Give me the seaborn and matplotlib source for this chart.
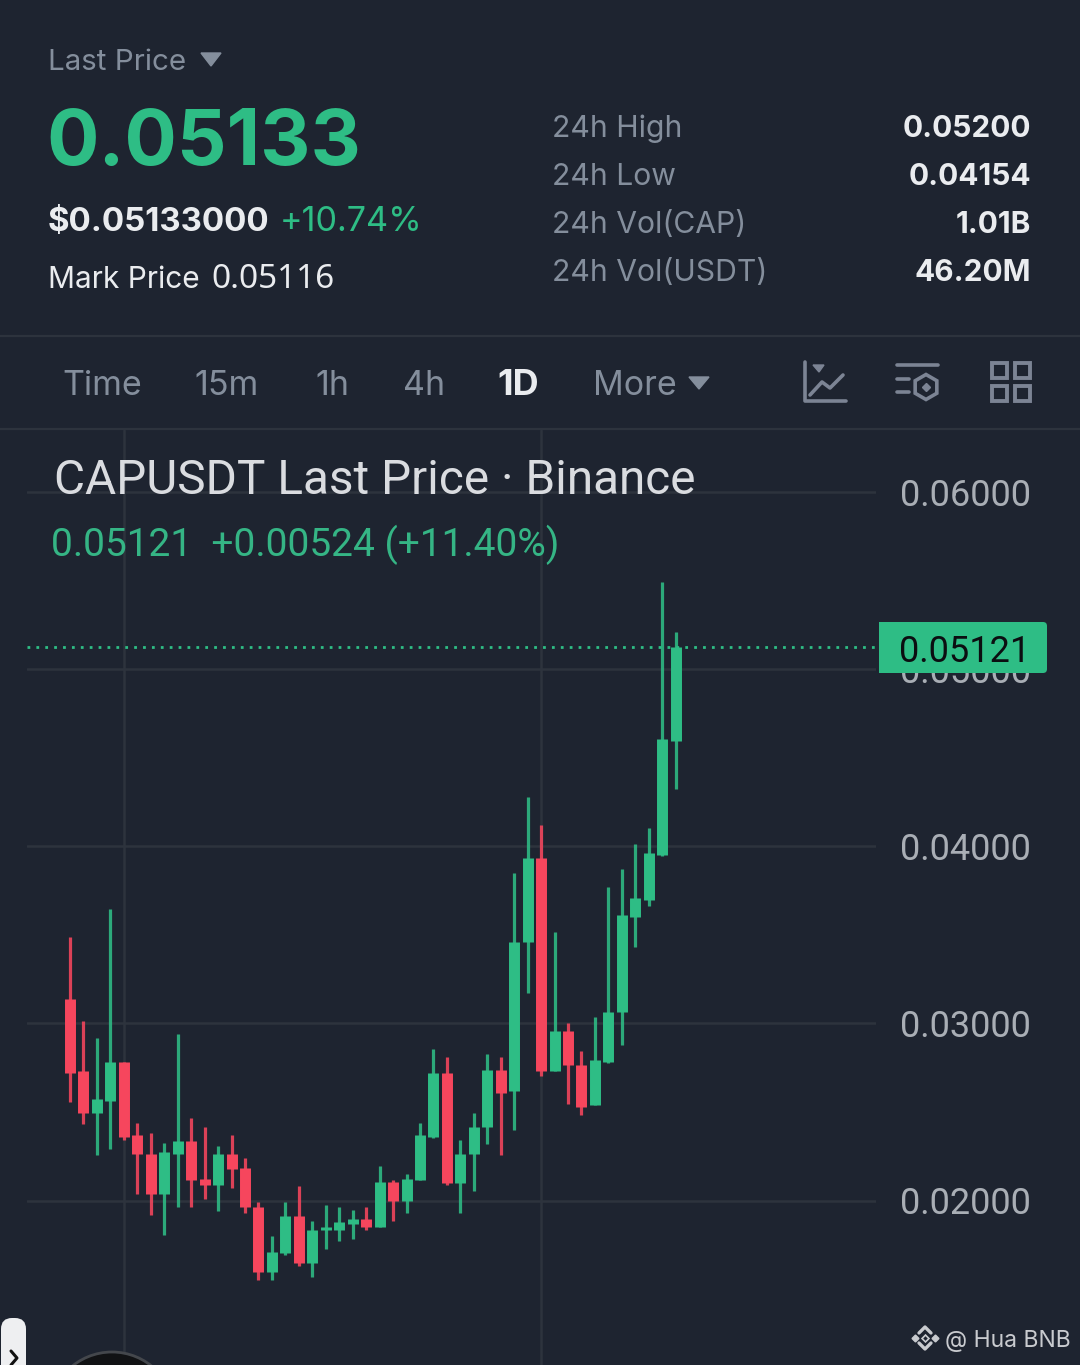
import matplotlib
matplotlib.use("Agg")
import matplotlib.pyplot as plt
from matplotlib.patches import Circle, FancyBboxPatch, Polygon, Rectangle
import numpy as np
import pandas as pd
import seaborn as sns

# daily candles
opens = [.03134, .02728, .02491, .02564, .02779, .02367, .02260, .02039, .02265, .02333,
         .02124, .02090, .02260, .02181, .01966, .01594, .01701, .01915, .01645, .01836,
         .01836, .01870, .01893, .01848, .02107, .02000, .02118, .02361, .02717, .02096,
         .02260, .02412, .02739, .02615, .03456, .03930, .02728, .02959, .02767, .02536,
         .02784, .03061, .03602, .03693, .03952, .04595]
closes = [.02722, .02491, .02575, .02779, .02361, .02260, .02039, .02271, .02333, .02118,
          .02090, .02260, .02175, .01961, .01594, .01707, .01915, .01645, .01831, .01853,
          .01876, .01893, .01848, .02107, .02000, .02124, .02367, .02717, .02096, .02260,
          .02412, .02739, .02609, .03461, .03930, .02728, .02959, .02762, .02530, .02790,
          .03066, .03608, .03704, .03958, .04601, .05121]
highs = [.03489, .03010, .02914, .03642, .02784, .02440, .02378, .02322, .02937, .02468,
         .02412, .02305, .02372, .02237, .01989, .01797, .01989, .02079, .01887, .01977,
         .01966, .01944, .01961, .02192, .02118, .02152, .02440, .02852, .02807, .02339,
         .02496, .02829, .02807, .03845, .04279, .04121, .03512, .02999, .02846, .03038,
         .03766, .03868, .04014, .04104, .05492, .05205]
lows = [.02553, .02434, .02254, .02288, .02339, .02034, .01921, .01808, .01966, .01961,
        .02006, .01938, .02068, .01932, .01554, .01549, .01690, .01628, .01571, .01724,
        .01774, .01780, .01831, .01848, .01887, .01932, .02118, .02355, .02090, .01932,
        .02051, .02316, .02254, .02400, .03168, .02700, .02728, .02547, .02480, .02536,
        .02773, .02880, .03433, .03664, .03941, .04324]

price_ticks = [0.02, 0.03, 0.04, 0.05, 0.06]
last_close = 0.05121
grid_candles = [4, 35]

stat_labels = ["24h High", "24h Low", "24h Vol(CAP)", "24h Vol(USDT)"]
stat_values = ["0.05200", "0.04154", "1.01B", "46.20M"]
tab_labels = ["Time", "15m", "1h", "4h", "1D", "More"]

BG = "#1E2430"
GREEN = "#2EBD85"
RED = "#F6465D"
GRID = "#2D333D"
MUTED = "#848E9C"
LIGHT = "#EAECEF"

sns.set_theme(style="dark", rc={"axes.facecolor": BG, "figure.facecolor": BG})
plt.rcParams["font.family"] = ["Inter", "Roboto", "DejaVu Sans"]

W, H = 1080, 1365
fig = plt.figure(figsize=(W / 100, H / 100), dpi=100)

# chart area in pixels
left, right, top, bottom = 27, 876, 430, 1365
ax = fig.add_axes([left / W, 1 - bottom / H, (right - left) / W, (bottom - top) / H])

candles = pd.DataFrame({"open": opens, "close": closes, "high": highs, "low": lows})
candles["idx"] = candles.index
candles["dir"] = np.where(candles["close"] >= candles["open"], "up", "down")
palette = {"up": GREEN, "down": RED}

wicks = candles.melt(id_vars=["idx", "dir"], value_vars=["high", "low"], value_name="price")
bodies = candles.melt(id_vars=["idx", "dir"], value_vars=["open", "close"], value_name="price")

sns.lineplot(data=wicks, x="idx", y="price", hue="dir", units="idx", estimator=None,
             palette=palette, linewidth=2.3, alpha=0.88, legend=False, ax=ax,
             solid_capstyle="butt")
sns.lineplot(data=bodies, x="idx", y="price", hue="dir", units="idx", estimator=None,
             palette=palette, linewidth=7.9, legend=False, ax=ax,
             solid_capstyle="butt")

ax.axhline(last_close, color=GREEN, linestyle=(0, (1, 2.2)), linewidth=2.0, zorder=1)

# 0.01 of price is 177.25 px, first candle at x=70, step 13.46 px
ax.set_ylim(0.02 - (bottom - 1200.5) / 17725, 0.06 + (491.5 - top) / 17725)
ax.set_xlim((left - 70) / 13.46, (right - 70) / 13.46)
ax.set_xticks(grid_candles)
ax.set_xticklabels([])
ax.set_yticks(price_ticks)
ax.set_yticklabels([f"{p:.5f}" for p in price_ticks], family="Roboto", fontsize=26,
                   color="#A9AEB5")
ax.yaxis.tick_right()
ax.tick_params(axis="y", length=0, pad=17)
ax.tick_params(axis="x", length=0)
ax.grid(True, color=GRID, linewidth=1.8)
ax.set_axisbelow(True)
ax.set_xlabel("")
ax.set_ylabel("")
sns.despine(ax=ax, left=True, bottom=True, right=True, top=True)

# everything around the chart goes on an overlay in pixel coordinates
ov = fig.add_axes([0, 0, 1, 1])
ov.set_xlim(0, W)
ov.set_ylim(H, 0)
ov.axis("off")
ov.patch.set_alpha(0)

ov.text(48, 70, "Last Price", fontsize=21.3, color=MUTED)
ov.add_patch(Polygon([(201, 53), (221, 53), (211, 66)], color=MUTED))
ov.text(46, 165, "0.05133", fontsize=56, color=GREEN, fontweight="bold")
ov.text(48, 231, "$0.05133000", fontsize=23.8, color=LIGHT, fontweight="bold")
ov.text(280, 231, "+10.74%", fontsize=24.6, color=GREEN)
ov.text(48, 288, "Mark Price", fontsize=21.5, color=LIGHT)
ov.text(211, 288, "0.05116", fontsize=24, color=LIGHT, family="Noto Sans")

for i, (lab, val) in enumerate(zip(stat_labels, stat_values)):
    y = 137 + i * 48
    ov.text(552, y, lab, fontsize=21.7, color=MUTED)
    ov.text(1031, y, val, fontsize=21.5, color=LIGHT, ha="right", fontweight="bold")

ov.plot([0, W], [336, 336], color=GRID, lw=1.6)
ov.plot([0, W], [429, 429], color=GRID, lw=1.6)

tab_x = [62, 194, 315, 403, 497, 593]
for x, lab in zip(tab_x, tab_labels):
    active = lab == "1D"
    ov.text(x, 395, lab, fontsize=26 if active else 24.5, color=LIGHT if active else MUTED,
            fontweight="bold" if active else "normal")
ov.add_patch(Polygon([(689, 377), (709, 377), (699, 389)], color=MUTED))

# toolbar icons
ICON = "#7C8494"
ov.plot([805, 805, 846], [362, 401, 401], color=ICON, lw=2.6)
ov.plot([810, 822, 830, 843], [395, 382, 388, 375], color=ICON, lw=2.6)
ov.add_patch(Polygon([(813, 365), (824, 365), (819, 372)], color=ICON))
ov.plot([897, 938], [365, 365], color=ICON, lw=2.6)
ov.plot([897, 909], [379, 379], color=ICON, lw=2.6)
ov.plot([897, 909], [392, 392], color=ICON, lw=2.6)
ang = np.deg2rad(np.arange(30, 390, 60))
ov.add_patch(Polygon(np.c_[926 + 12.5 * np.cos(ang), 387 + 12.5 * np.sin(ang)], fill=False,
                     edgecolor=ICON, lw=2.6))
ov.plot([926], [387], marker="D", ms=4.5, color=ICON)
for x0 in [992, 1015]:
    for y0 in [363, 386]:
        ov.add_patch(Rectangle((x0, y0), 15, 15, fill=False, edgecolor=ICON, lw=2.8))

ov.text(54, 494, "CAPUSDT Last Price · Binance", family="Roboto", fontsize=34.4, color="#DADCE0")
ov.text(51, 556, "0.05121  +0.00524 (+11.40%)", family="Roboto", fontsize=28, color="#35B585")

# price badge over the 0.05000 label
ov.add_patch(FancyBboxPatch((882, 625), 162, 45, boxstyle="round,pad=3,rounding_size=4",
                            facecolor=GREEN, edgecolor="none"))
ov.add_patch(Rectangle((879, 622), 10, 51, facecolor=GREEN, edgecolor="none"))
ov.text(965, 662, f"{last_close:.5f}", family="Roboto", fontsize=26, color="#0B0E11",
        ha="center")

# watermark logo and name
MARK = "#C9CBCF"
ov.plot([919, 925, 931], [1333, 1327, 1333], color=MARK, lw=2.4)
ov.plot([919, 925, 931], [1343, 1349, 1343], color=MARK, lw=2.4)
ov.plot([915, 935], [1338, 1338], ls="none", marker="D", ms=3.5, color=MARK)
ov.plot([925], [1338], marker="D", ms=3.5, color=BG, mec=MARK, mew=1.2)
ov.text(945, 1347, "@ Hua BNB", fontsize=16.5, color=MARK)

# bits of app ui cut by the bottom edge
ov.add_patch(FancyBboxPatch((3, 1320), 21, 80, boxstyle="round,pad=2,rounding_size=11",
                            facecolor="#EEEFF1", edgecolor="none"))
ov.plot([11, 17, 11], [1351, 1358, 1365], color="#111111", lw=2.2)
ov.add_patch(Circle((112, 1415), 63, facecolor="#111214", edgecolor="#44474C", lw=2))

fig.savefig("out.png", dpi=100, facecolor=BG)
